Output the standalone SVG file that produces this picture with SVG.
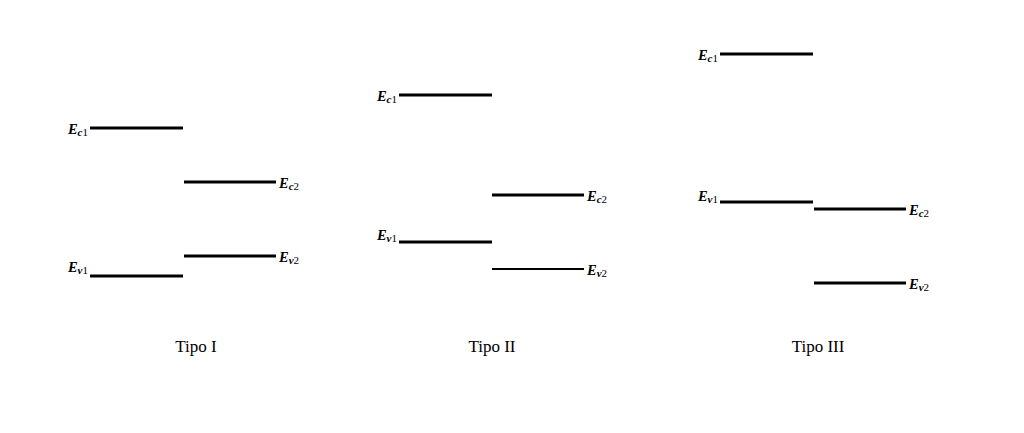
<svg xmlns="http://www.w3.org/2000/svg" width="1024" height="433" viewBox="0 0 1024 433">
<style>
.l{stroke:#000;stroke-width:3}
.t{font-family:"Liberation Serif",serif;font-size:14.5px;font-weight:bold;font-style:italic}
.s{font-size:11px}
.n{font-style:normal;font-weight:normal}
.r{text-anchor:end}
.ti{font-family:"Liberation Serif",serif;font-size:17px;text-anchor:middle}
</style>
<rect width="1024" height="433" fill="#fff"/>
<g id="connectors">
<line class="l" x1="90" y1="128" x2="183" y2="128"/>
<line class="l" x1="184" y1="182" x2="276" y2="182"/>
<line class="l" x1="184" y1="256" x2="276" y2="256"/>
<line class="l" x1="90" y1="276" x2="183" y2="276"/>
<line class="l" x1="399" y1="95" x2="492" y2="95"/>
<line class="l" x1="492" y1="195" x2="584" y2="195"/>
<line class="l" x1="399" y1="242" x2="492" y2="242"/>
<line class="l" x1="492" y1="269" x2="584" y2="269" style="stroke-width:2"/>
<line class="l" x1="720" y1="54" x2="813" y2="54"/>
<line class="l" x1="720" y1="202" x2="813" y2="202"/>
<line class="l" x1="814" y1="209" x2="906" y2="209"/>
<line class="l" x1="814" y1="283" x2="906" y2="283"/>
</g>
<g id="tipo1">
<text class="t r" x="88" y="134">E<tspan class="s" dy="2">c</tspan><tspan class="s n">1</tspan></text>
<text class="t" x="279" y="188">E<tspan class="s" dy="2">c</tspan><tspan class="s n">2</tspan></text>
<text class="t" x="279" y="262">E<tspan class="s" dy="2">v</tspan><tspan class="s n">2</tspan></text>
<text class="t r" x="88" y="272">E<tspan class="s" dy="2">v</tspan><tspan class="s n">1</tspan></text>
<text class="ti" x="196" y="352">Tipo I</text>
</g>
<g id="tipo2">
<text class="t r" x="397" y="101">E<tspan class="s" dy="2">c</tspan><tspan class="s n">1</tspan></text>
<text class="t" x="587" y="201">E<tspan class="s" dy="2">c</tspan><tspan class="s n">2</tspan></text>
<text class="t r" x="397" y="240">E<tspan class="s" dy="2">v</tspan><tspan class="s n">1</tspan></text>
<text class="t" x="587" y="275">E<tspan class="s" dy="2">v</tspan><tspan class="s n">2</tspan></text>
<text class="ti" x="492" y="352">Tipo II</text>
</g>
<g id="tipo3">
<text class="t r" x="718" y="60">E<tspan class="s" dy="2">c</tspan><tspan class="s n">1</tspan></text>
<text class="t r" x="718" y="201">E<tspan class="s" dy="2">v</tspan><tspan class="s n">1</tspan></text>
<text class="t" x="909" y="215">E<tspan class="s" dy="2">c</tspan><tspan class="s n">2</tspan></text>
<text class="t" x="909" y="289">E<tspan class="s" dy="2">v</tspan><tspan class="s n">2</tspan></text>
<text class="ti" x="818" y="352">Tipo III</text>
</g>
</svg>
